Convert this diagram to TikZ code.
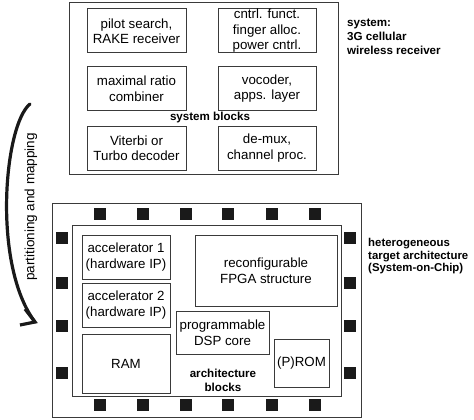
\documentclass[tikz,border=0pt]{standalone}
\usepackage{fontspec}
\setmainfont{Liberation Sans}
\usetikzlibrary{arrows.meta,calc}
\definecolor{ln}{HTML}{3A3A3A}
\definecolor{pad}{HTML}{1A1A1A}
\tikzset{
  blk/.style={draw=ln, line width=1pt, fill=white, inner sep=0pt, align=center,
    font=\fontsize{13.3}{15.5}\selectfont},
  frame/.style={draw=ln, line width=1pt, inner sep=0pt},
  lbl/.style={font=\bfseries\fontsize{11.6}{13.5}\selectfont, inner sep=0pt},
  pin/.style={fill=pad, minimum width=12pt, minimum height=12pt, inner sep=0pt},
  flow/.style={line width=3.2pt, color=black!90},
}
\begin{document}
\begin{tikzpicture}[x=1pt,y=-1pt]
\useasboundingbox (0,0) rectangle (474,420);
% system part
\node[frame, minimum width=269pt, minimum height=171pt] (sys) at (203.5,88.5) {};
\node[blk, minimum width=99pt, minimum height=44pt] (pilot) at (136.5,31) {pilot search,\\RAKE receiver};
\node[blk, minimum width=98pt, minimum height=44pt] (cntrl) at (267,31) {cntrl. funct.\\finger alloc.\\power cntrl.};
\node[blk, minimum width=99pt, minimum height=43pt] (mrc) at (136.5,88.5) {maximal ratio\\combiner};
\node[blk, minimum width=98pt, minimum height=43pt] (voc) at (267,88.5) {vocoder,\\apps. layer};
\node[blk, minimum width=99pt, minimum height=44pt] (vit) at (136.5,148) {Viterbi or\\Turbo decoder};
\node[blk, minimum width=98pt, minimum height=44pt] (dmx) at (267,148) {de-mux,\\channel proc.};
\node[lbl] (sysb) at (210,118) {system blocks};
\node[lbl, anchor=north west, align=left, font=\bfseries\fontsize{11.6}{14}\selectfont] (syslbl) at (347,18.5) {system:\\3G cellular\\wireless receiver};
% chip
\node[frame, minimum width=309pt, minimum height=214pt] (chip) at (206.5,310) {};
\node[frame, minimum width=269pt, minimum height=171pt] (core) at (206.5,310.5) {};
\foreach \x [count=\i] in {100,143,186,228,272,315}{
  \node[pin] (pt\i) at (\x,214) {};
  \node[pin] (pb\i) at (\x,405) {};
}
\foreach \y [count=\i] in {238,283,326,373}{
  \node[pin] (pl\i) at (61.5,\y) {};
  \node[pin] (pr\i) at (350,\y) {};
}
\node[blk, minimum width=88pt, minimum height=44pt] (acc1) at (126,257) {accelerator 1\\(hardware IP)};
\node[blk, minimum width=88pt, minimum height=44pt] (acc2) at (126,305) {accelerator 2\\(hardware IP)};
\node[blk, minimum width=88pt, minimum height=59pt] (ram) at (126,363.5) {RAM};
\node[blk, minimum width=142pt, minimum height=71pt] (fpga) at (266,270.5) {reconfigurable\\FPGA structure};
\node[blk, minimum width=93pt, minimum height=43pt] (dsp) at (222.5,332.5) {programmable\\DSP core};
\node[blk, minimum width=55pt, minimum height=48pt] (prom) at (301.5,363) {(P)ROM};
\node[lbl, align=center] (archb) at (223,380.5) {architecture\\blocks};
\node[lbl, anchor=north west, align=left, font=\bfseries\fontsize{11.4}{12.5}\selectfont] (chiplbl) at (368,238.5) {heterogeneous\\target architecture\\(System-on-Chip)};
% mapping arrow
\coordinate (a0) at (30,104);
\coordinate (a1) at (35,322);
\draw[flow, line cap=round] (a0) .. controls (4,125) and (-8,265) .. (a1);
\draw[flow, line join=miter, line cap=butt] ($(a1)+(-10,-13)$) -- (a1) -- ($(a1)+(-15,3)$);
\node[rotate=90, font=\fontsize{13.5}{15}\selectfont, inner sep=0pt] (pm) at (31,207) {partitioning and mapping};
\end{tikzpicture}
\end{document}
